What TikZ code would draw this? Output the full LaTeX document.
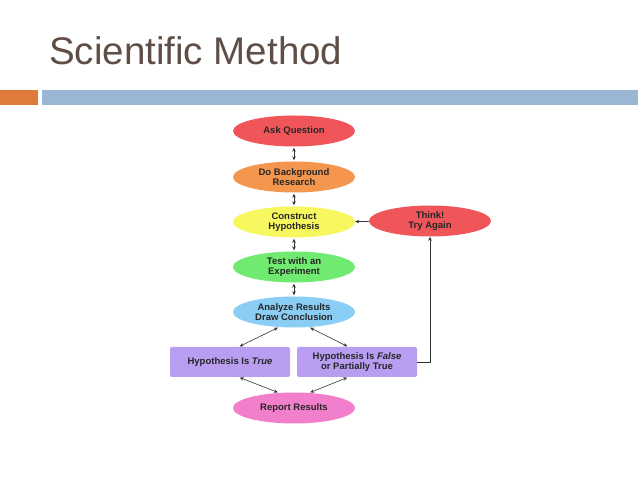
\documentclass[tikz,border=0pt]{standalone}
\usepackage{fontspec}
\setmainfont{Liberation Sans}
\usetikzlibrary{shapes.geometric,arrows.meta}
\begin{document}
\begin{tikzpicture}[x=1pt,y=-1pt,
  ell/.style={ellipse,minimum width=122pt,minimum height=31pt,inner sep=0pt,align=center,font=\bfseries\fontsize{9.5}{10.5}\selectfont,text=black!85},
  box/.style={rectangle,rounded corners=2pt,minimum width=120pt,minimum height=30pt,inner sep=0pt,align=center,fill=purpleb,font=\bfseries\fontsize{9.5}{10.5}\selectfont,text=black!85},
  dar/.style={{Stealth[length=4pt,width=3.5pt]}-{Stealth[length=4pt,width=3.5pt]},semithick,black!80,shorten <=1pt,shorten >=1pt},
  sar/.style={-{Stealth[length=4pt,width=3.5pt]},semithick,black!80}]
\definecolor{redb}{HTML}{F0555A}
\definecolor{orangeb}{HTML}{F5964F}
\definecolor{yellowb}{HTML}{F7F760}
\definecolor{greenb}{HTML}{70EA70}
\definecolor{blueb}{HTML}{8ACEF5}
\definecolor{purpleb}{HTML}{B89DF0}
\definecolor{pinkb}{HTML}{F27FCB}
\useasboundingbox (0,0) rectangle (638,478);
\fill[white] (0,0) rectangle (638,478);
\node[anchor=base west,inner sep=0pt,text={rgb,255:red,95;green,78;blue,70},font=\fontsize{38.5}{42}\selectfont] (title) at (49,65) {Scientific Method};
\fill[fill={rgb,255:red,224;green,122;blue,60}] (0,90) rectangle (38,105);
\fill[fill={rgb,255:red,154;green,182;blue,212}] (42,90) rectangle (638,105);
\node[ell,fill=redb] (ask) at (294,131) {Ask Question};
\node[ell,fill=orangeb] (bg) at (294,177) {Do Background\\Research};
\node[ell,fill=yellowb] (hyp) at (294,222) {Construct\\Hypothesis};
\node[ell,fill=redb] (think) at (430,221) {Think!\\Try Again};
\node[ell,fill=greenb] (test) at (294,267) {Test with an\\Experiment};
\node[ell,fill=blueb] (ana) at (294,312) {Analyze Results\\Draw Conclusion};
\node[box] (true) at (230,362) {Hypothesis Is \textit{True}};
\node[box] (false) at (357,362) {Hypothesis Is \textit{False}\\or Partially True};
\node[ell,fill=pinkb] (rep) at (294,408) {Report Results};
\draw[dar] (ask) -- (bg);
\draw[dar] (bg) -- (hyp);
\draw[dar] (hyp) -- (test);
\draw[dar] (test) -- (ana);
\draw[dar] (ana.225) -- (true.60);
\draw[dar] (ana.315) -- (false.120);
\draw[dar] (true.300) -- (rep.135);
\draw[dar] (false.240) -- (rep.45);
\draw[sar] (think) -- (hyp);
\draw[sar] (false.east) -| (think.south);
\end{tikzpicture}
\end{document}
